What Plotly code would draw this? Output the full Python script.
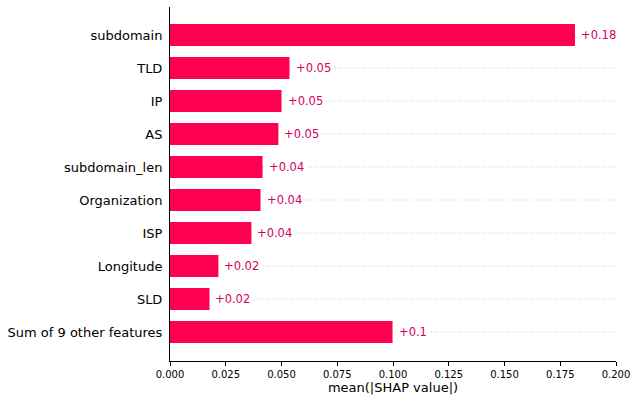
import plotly.graph_objects as go

features = ["subdomain", "TLD", "IP", "AS", "subdomain_len", "Organization",
            "ISP", "Longitude", "SLD", "Sum of 9 other features"]
values = [0.1816, 0.0536, 0.0500, 0.0486, 0.0415, 0.0406, 0.0365, 0.0217, 0.0177, 0.0998]
x_ticks = [0.0, 0.025, 0.05, 0.075, 0.1, 0.125, 0.15, 0.175, 0.2]

BAR = "#ff0051"
TXT = "#d4005f"
FONT = "DejaVu Sans"

labels = [f"{v:+.2f}".rstrip("0") for v in values]

fig = go.Figure()
fig.add_trace(go.Bar(
    x=values, y=features, orientation="h",
    marker=dict(color=BAR, line=dict(width=0)),
    width=0.67, hoverinfo="skip",
))

for f in features:
    fig.add_shape(type="line", xref="x", yref="y", x0=0, x1=0.2, y0=f, y1=f,
                  line=dict(color="#cccccc", width=1, dash="1px,2px"), layer="below")

for f, v, t in zip(features, values, labels):
    fig.add_annotation(x=v, y=f, text=t, showarrow=False, xanchor="left",
                       xshift=2, font=dict(family=FONT, size=11.5, color=TXT),
                       bgcolor="white", borderpad=3)

fig.update_layout(
    width=638, height=401,
    margin=dict(l=170, r=22, t=7, b=40),
    plot_bgcolor="white", paper_bgcolor="white",
    showlegend=False,
    font=dict(family=FONT, color="black"),
    xaxis=dict(
        range=[0, 0.2], tickvals=x_ticks, tickformat=".3f",
        ticks="outside", ticklen=3.5, tickwidth=1, tickcolor="black",
        showline=True, linecolor="black", linewidth=1,
        showgrid=False, zeroline=False,
        tickfont=dict(family=FONT, size=10, color="black"),
        title=dict(text="mean(|SHAP value|)", font=dict(family=FONT, size=13, color="black"),
                   standoff=4),
    ),
    yaxis=dict(
        type="category", categoryorder="array", categoryarray=features,
        range=[9.88, -0.85],
        showline=True, linecolor="black", linewidth=1,
        ticks="", showgrid=False, zeroline=False,
        ticklabelstandoff=4,
        tickfont=dict(family=FONT, size=13, color="black"),
    ),
)

fig.write_html("out.html", config={"displayModeBar": False},
               post_script="document.body.style.margin='0';document.body.style.overflow='hidden';")
